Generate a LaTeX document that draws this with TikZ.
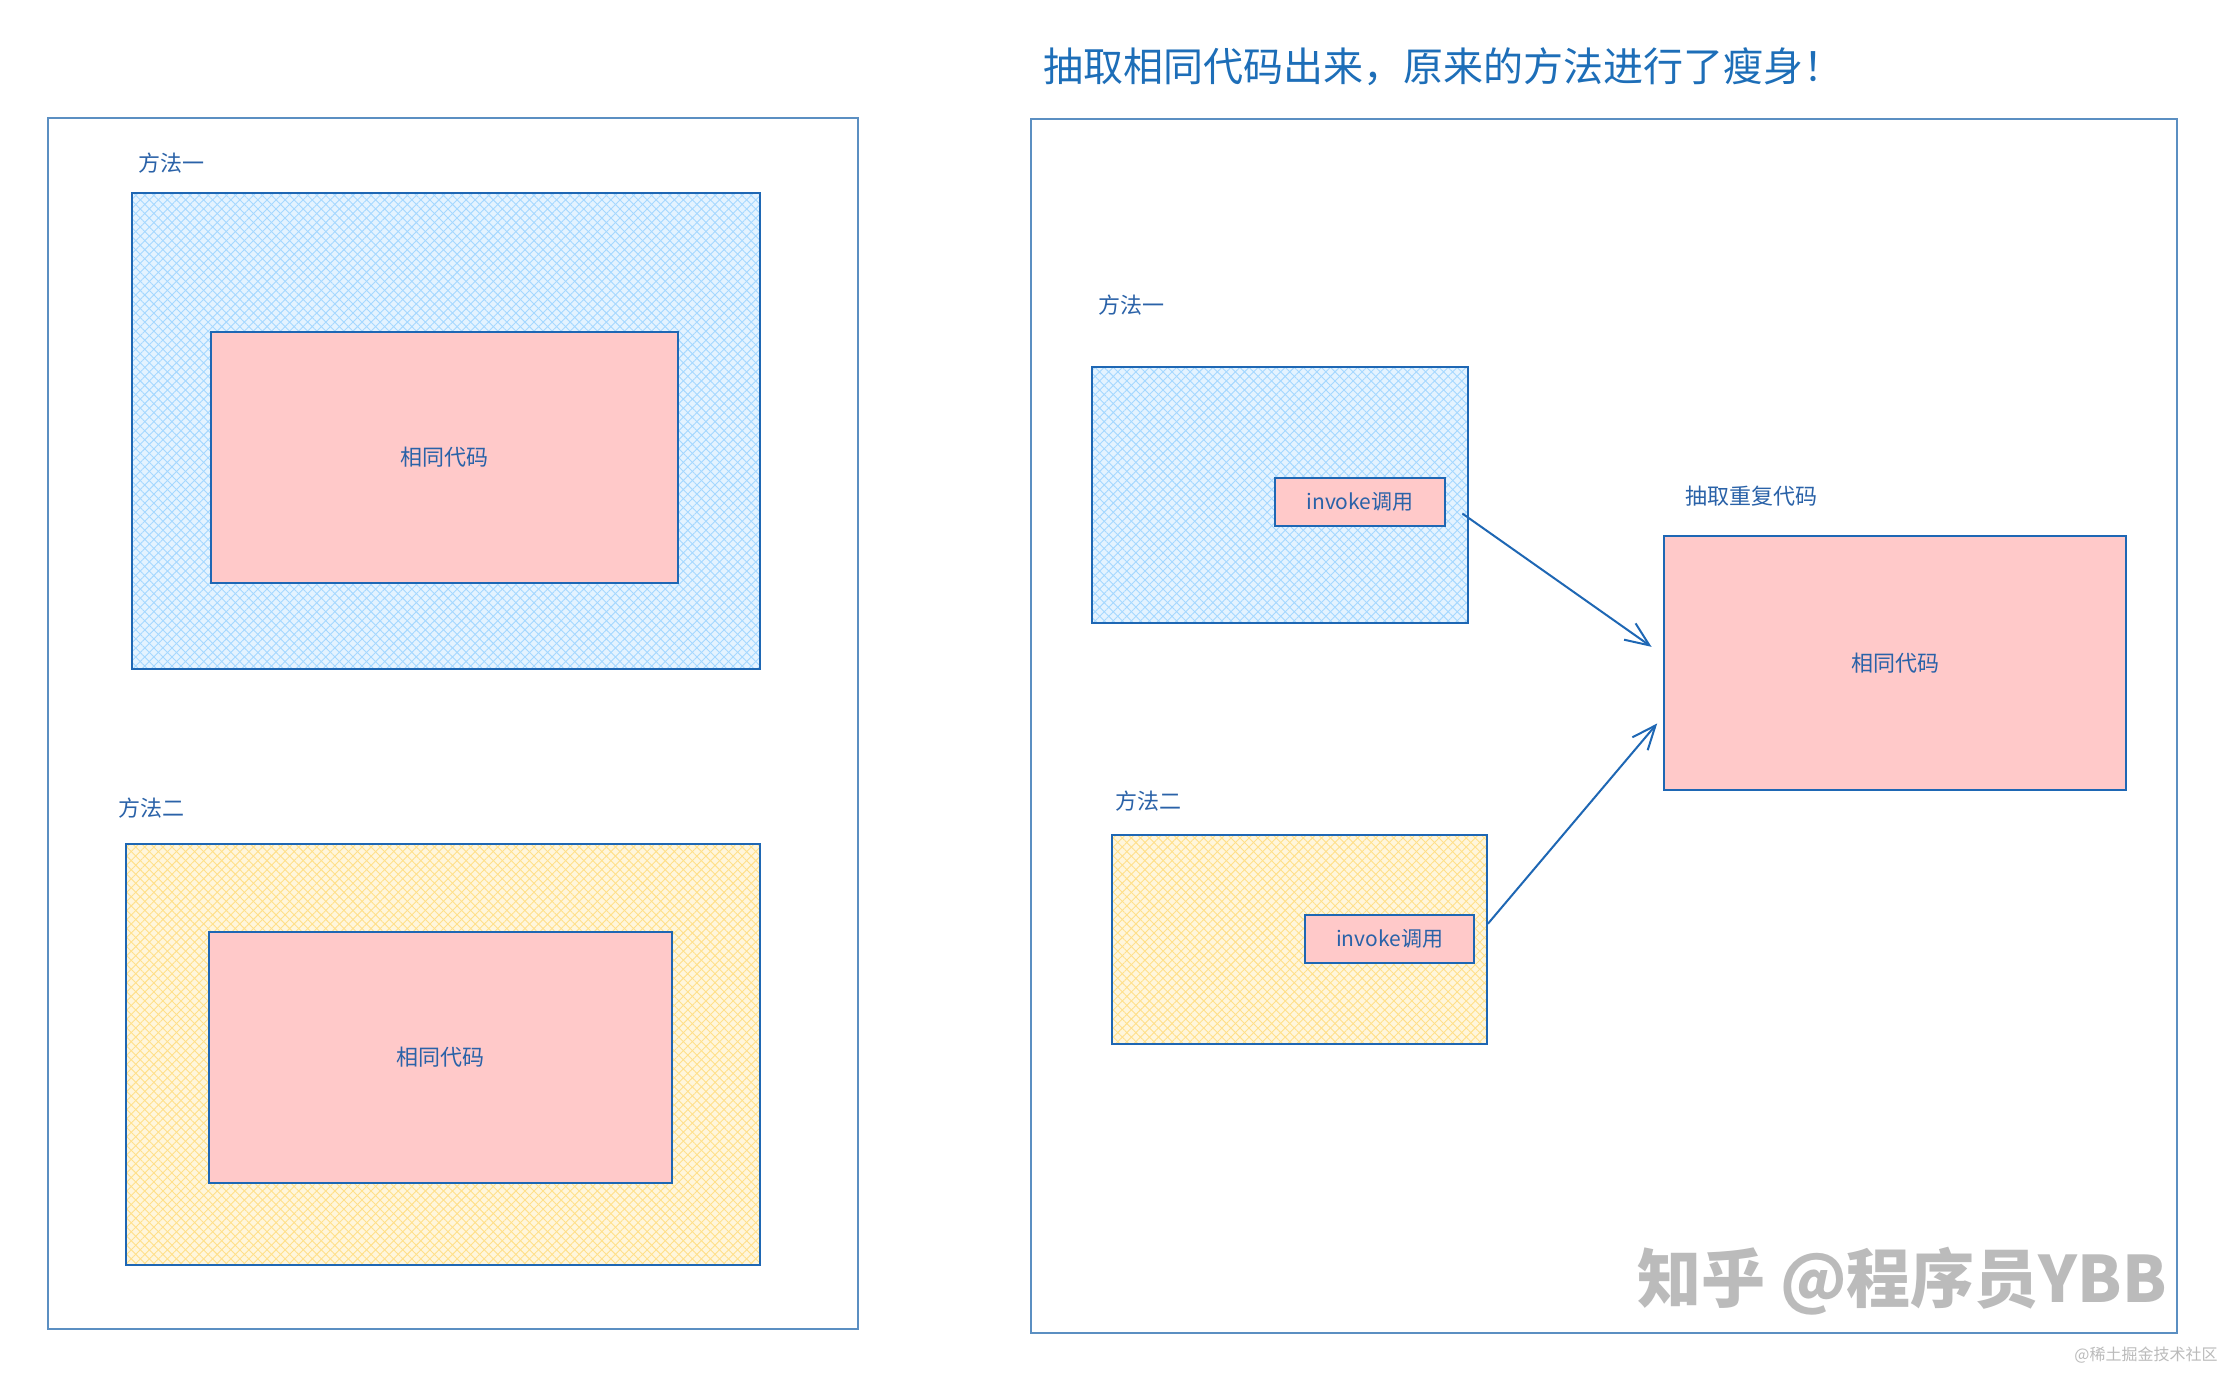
\documentclass[tikz,border=0pt]{standalone}
\usepackage{fontspec}
\setmainfont{Noto Sans CJK SC}
\usetikzlibrary{positioning,patterns.meta,arrows.meta}
\definecolor{inkblue}{HTML}{1E67B4}
\definecolor{framecol}{HTML}{5B8FC2}
\definecolor{hatchblue}{HTML}{A5D8FF}
\definecolor{hatchyellow}{HTML}{FFE08A}
\definecolor{codepink}{HTML}{FFC9C9}
\definecolor{txtblue}{HTML}{2A62A8}
\definecolor{titleblue}{HTML}{1D6EB8}
\definecolor{markgray}{HTML}{BBBBBB}
\tikzstyle{frame} = [draw=framecol, line width=0.8pt, rectangle, inner sep=0pt]
\tikzstyle{methodbox} = [draw=inkblue, line width=1pt, rectangle, inner sep=0pt]
\tikzstyle{codebox} = [draw=inkblue, line width=1pt, fill=codepink, rectangle,
    inner sep=0pt, text=txtblue, font=\fontsize{11}{13}\selectfont]
\tikzstyle{lbl} = [text=txtblue, font=\fontsize{11}{13}\selectfont, inner sep=0pt, anchor=west]
\tikzstyle{callarrow} = [draw=inkblue, line width=1pt, -{Straight Barb[length=12pt,width=10pt]}]
\tikzset{hatched/.style={preaction={fill=#1!30},
    preaction={pattern={Lines[angle=45,distance=3.2pt,line width=0.45pt]}, pattern color=#1},
    preaction={pattern={Lines[angle=-45,distance=3.2pt,line width=0.45pt]}, pattern color=#1}}}

\begin{document}
\begin{tikzpicture}[x=0.5pt, y=-0.5pt]
                \useasboundingbox (0,0) rectangle (2224,1372);
                \fill[white] (0,0) rectangle (2224,1372);

                \node[frame, minimum width=405pt, minimum height=605.5pt] (leftframe) at (453,723.5) {};
                \node[methodbox, hatched=hatchblue, minimum width=314pt, minimum height=238pt] (blueL) at (446,431) {};
                \node[codebox, minimum width=233.5pt, minimum height=125.5pt] (pinkL1) at (444.5,457.5) {相同代码};
                \node[lbl] (lblL1) at (138,163) {方法一};
                \node[methodbox, hatched=hatchyellow, minimum width=317pt, minimum height=210.5pt] (yellowL) at (443,1054.5) {};
                \node[codebox, minimum width=231.5pt, minimum height=125.5pt] (pinkL2) at (440.5,1057.5) {相同代码};
                \node[lbl] (lblL2) at (118,808) {方法二};

                \node[text=titleblue, font=\fontsize{20}{24}\selectfont, inner sep=0pt, anchor=west] (title) at (1043,67) {抽取相同代码出来，原来的方法进行了瘦身！};
                \node[frame, minimum width=573pt, minimum height=607pt] (rightframe) at (1604,726) {};
                \node[lbl] (lblR1) at (1098,305) {方法一};
                \node[methodbox, hatched=hatchblue, minimum width=188pt, minimum height=128pt] (blueR) at (1280,495) {};
                \node[codebox, minimum width=85pt, minimum height=24pt, font=\fontsize{10.5}{12}\selectfont] (invoke1) at (1360,502) {invoke调用};
                \node[lbl] (lblExtract) at (1685,496) {抽取重复代码};
                \node[codebox, minimum width=231pt, minimum height=127pt] (pinkR) at (1895,663) {相同代码};
                \node[lbl] (lblR2) at (1115,801) {方法二};
                \node[methodbox, hatched=hatchyellow, minimum width=187.5pt, minimum height=104.5pt] (yellowR) at (1299.5,939.5) {};
                \node[codebox, minimum width=84.5pt, minimum height=24pt, font=\fontsize{10.5}{12}\selectfont] (invoke2) at (1389.5,939) {invoke调用};

                \draw[callarrow, shorten <=10pt, shorten >=7pt] (invoke1.east) -- (pinkR.178);
                \draw[callarrow, shorten <=10pt, shorten >=4.5pt] (invoke2.east) -- (pinkR.193);

                \node[text=markgray, font=\fontsize{32}{36}\selectfont\bfseries, inner sep=0pt, anchor=east] (watermark) at (2167,1281) {知乎 @程序员YBB};
                \node[text=markgray, font=\fontsize{8}{10}\selectfont, inner sep=0pt, anchor=east] (sitemark) at (2218,1355) {@稀土掘金技术社区};
            \end{tikzpicture}
\end{document}
